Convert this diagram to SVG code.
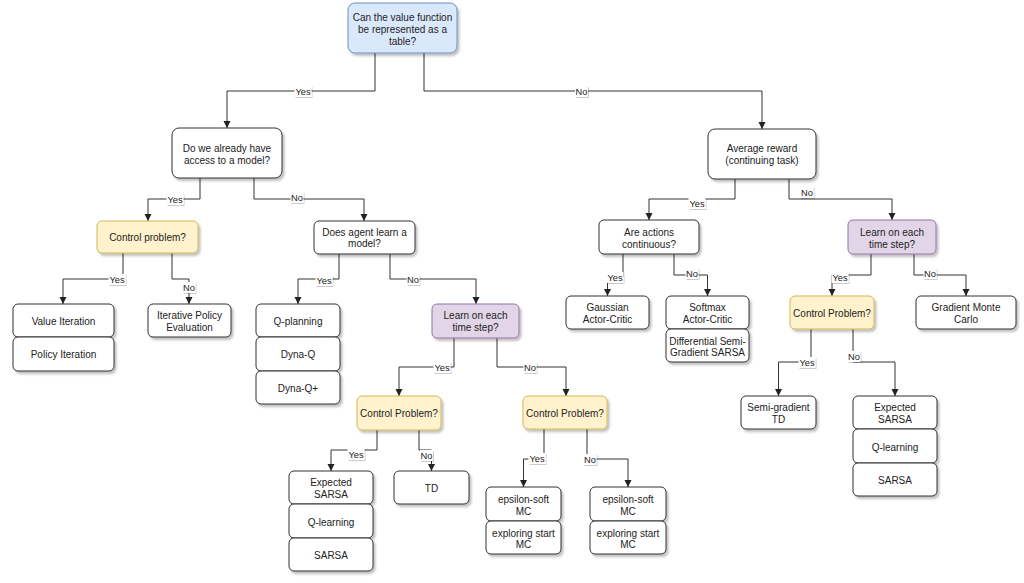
<svg xmlns="http://www.w3.org/2000/svg" width="1024" height="583" viewBox="0 0 1024 583">
<defs>
<filter id="sh" x="-10%" y="-10%" width="130%" height="140%">
<feDropShadow dx="2" dy="2.5" stdDeviation="1" flood-color="#000" flood-opacity="0.25"/>
</filter>
<filter id="lsh" x="-20%" y="-20%" width="150%" height="160%">
<feDropShadow dx="1" dy="1" stdDeviation="0.5" flood-color="#000" flood-opacity="0.2"/>
</filter>
<marker id="ah" markerWidth="8" markerHeight="8" refX="7" refY="4" orient="auto" markerUnits="userSpaceOnUse">
<path d="M0,0.5 L7,4 L0,7.5 Z" fill="#222"/>
</marker>
</defs>
<style>
rect.n{fill:#fff;stroke:#333;stroke-width:1;filter:url(#sh)}
rect.b{fill:#dae8fc;stroke:#6c8ebf;stroke-width:1;filter:url(#sh)}
rect.y{fill:#fff2cc;stroke:#d6b656;stroke-width:1;filter:url(#sh)}
rect.p{fill:#e1d5e7;stroke:#9673a6;stroke-width:1;filter:url(#sh)}
text{font-family:"Liberation Sans",Arial,sans-serif;font-size:10px;fill:#222;text-anchor:middle}
.e path{fill:none;stroke:#333;stroke-width:1;marker-end:url(#ah)}
.e rect{fill:#fff;filter:url(#lsh)}
.e text{font-size:9.3px}
</style>
<rect width="1024" height="583" fill="#fff"/>
<g class="e" id="connectors">
<path d="M375 53 V91 H227 V128"/>
<path d="M424 53 V91 H762 V129"/>
<path d="M200 178 V199 H148 V221"/>
<path d="M254 178 V199 H364 V221"/>
<path d="M123 253 V279 H63 V304"/>
<path d="M172 253 V279 H189 V304"/>
<path d="M339 254 V279 H298 V304"/>
<path d="M390 254 V279 H476 V304"/>
<path d="M454 338 V367 H399 V396"/>
<path d="M497 338 V367 H566 V396"/>
<path d="M377 430 V450 H331 V471"/>
<path d="M419 430 V450 H431.5 V471"/>
<path d="M544 429 V459 H523.5 V487"/>
<path d="M587 429 V459 H628 V487"/>
<path d="M735 179 V199 H649 V220"/>
<path d="M789 179 V199 H892 V220"/>
<path d="M623 254 V277 H607.5 V296"/>
<path d="M674 254 V275 H707.5 V296"/>
<path d="M871 254 V275 H832 V296"/>
<path d="M914 254 V275 H966 V296"/>
<path d="M811 329 V362 H778.5 V396"/>
<path d="M853 329 V362 H895 V396"/>
<rect x="294.5" y="86" width="17" height="11"/><text x="303" y="94.5">Yes</text>
<rect x="575" y="86" width="13" height="11"/><text x="581.5" y="94.5">No</text>
<rect x="166.5" y="194" width="17" height="11"/><text x="175" y="202.5">Yes</text>
<rect x="290.5" y="192" width="13" height="11"/><text x="297" y="200.5">No</text>
<rect x="108.5" y="274" width="17" height="11"/><text x="117" y="282.5">Yes</text>
<rect x="182.5" y="282" width="13" height="11"/><text x="189" y="290.5">No</text>
<rect x="315.5" y="275" width="17" height="11"/><text x="324" y="283.5">Yes</text>
<rect x="406.5" y="274" width="13" height="11"/><text x="413" y="282.5">No</text>
<rect x="433.5" y="362" width="17" height="11"/><text x="442" y="370.5">Yes</text>
<rect x="523.5" y="362" width="13" height="11"/><text x="530" y="370.5">No</text>
<rect x="347.5" y="449" width="17" height="11"/><text x="356" y="457.5">Yes</text>
<rect x="420" y="450" width="13" height="11"/><text x="426.5" y="458.5">No</text>
<rect x="528.5" y="453" width="17" height="11"/><text x="537" y="461.5">Yes</text>
<rect x="583.5" y="454" width="13" height="11"/><text x="590" y="462.5">No</text>
<rect x="688.5" y="198" width="17" height="11"/><text x="697" y="206.5">Yes</text>
<rect x="800.5" y="187" width="13" height="11"/><text x="807" y="195.5">No</text>
<rect x="606.5" y="272" width="17" height="11"/><text x="615" y="280.5">Yes</text>
<rect x="685.5" y="268" width="13" height="11"/><text x="692" y="276.5">No</text>
<rect x="831.5" y="272" width="17" height="11"/><text x="840" y="280.5">Yes</text>
<rect x="923.5" y="268" width="13" height="11"/><text x="930" y="276.5">No</text>
<rect x="798.5" y="357" width="17" height="11"/><text x="807" y="365.5">Yes</text>
<rect x="847.5" y="351" width="13" height="11"/><text x="854" y="359.5">No</text>
</g>
<g id="root"><rect class="b" x="348" y="3" width="109" height="50" rx="7"/><text x="402.5" y="20.5">Can the value function</text><text x="402.5" y="32.5">be represented as a</text><text x="402.5" y="44.5">table?</text></g>
<g id="model-access"><rect class="n" x="172" y="128" width="110" height="50" rx="7"/><text x="227" y="152">Do we already have</text><text x="227" y="164">access to a model?</text></g>
<g id="control1"><rect class="y" x="97" y="221" width="101" height="32" rx="5"/><text x="147.5" y="241">Control problem?</text></g>
<g id="value-iteration"><rect class="n" x="13" y="304" width="101" height="33" rx="5"/><text x="63.5" y="324.5">Value Iteration</text></g>
<g id="policy-iteration"><rect class="n" x="13" y="337" width="101" height="34" rx="5"/><text x="63.5" y="358">Policy Iteration</text></g>
<g id="ipe"><rect class="n" x="148" y="304" width="83" height="33" rx="5"/><text x="189.5" y="319">Iterative Policy</text><text x="189.5" y="330.5">Evaluation</text></g>
<g id="learn-model"><rect class="n" x="314" y="221" width="101" height="33" rx="5"/><text x="364.5" y="236">Does agent learn a</text><text x="364.5" y="247">model?</text></g>
<g id="q-planning"><rect class="n" x="256" y="304" width="84" height="33" rx="5"/><text x="298" y="324.5">Q-planning</text></g>
<g id="dyna-q"><rect class="n" x="256" y="337" width="84" height="34" rx="5"/><text x="298" y="358">Dyna-Q</text></g>
<g id="dyna-q-plus"><rect class="n" x="256" y="371" width="84" height="33" rx="5"/><text x="298" y="391.5">Dyna-Q+</text></g>
<g id="learn-step1"><rect class="p" x="432" y="304" width="87" height="34" rx="5"/><text x="475.5" y="319">Learn on each</text><text x="475.5" y="330.5">time step?</text></g>
<g id="control2"><rect class="y" x="357" y="396" width="84" height="34" rx="5"/><text x="399" y="417">Control Problem?</text></g>
<g id="exp-sarsa1"><rect class="n" x="289" y="471" width="84" height="33" rx="5"/><text x="331" y="486">Expected</text><text x="331" y="497.5">SARSA</text></g>
<g id="q-learning1"><rect class="n" x="289" y="504" width="84" height="34" rx="5"/><text x="331" y="526">Q-learning</text></g>
<g id="sarsa1"><rect class="n" x="289" y="538" width="84" height="33" rx="5"/><text x="331" y="558.5">SARSA</text></g>
<g id="td"><rect class="n" x="394" y="471" width="75" height="33" rx="5"/><text x="431.5" y="492">TD</text></g>
<g id="control3"><rect class="y" x="523" y="396" width="84" height="33" rx="5"/><text x="565" y="417">Control Problem?</text></g>
<g id="eps-soft1"><rect class="n" x="486" y="487" width="75" height="34" rx="5"/><text x="523.5" y="502.5">epsilon-soft</text><text x="523.5" y="514.5">MC</text></g>
<g id="explore1"><rect class="n" x="486" y="521" width="75" height="33" rx="5"/><text x="523.5" y="537">exploring start</text><text x="523.5" y="548">MC</text></g>
<g id="eps-soft2"><rect class="n" x="590" y="487" width="76" height="34" rx="5"/><text x="628" y="502.5">epsilon-soft</text><text x="628" y="514.5">MC</text></g>
<g id="explore2"><rect class="n" x="590" y="521" width="76" height="33" rx="5"/><text x="628" y="537">exploring start</text><text x="628" y="548">MC</text></g>
<g id="avg-reward"><rect class="n" x="708" y="129" width="108" height="50" rx="7"/><text x="762" y="152">Average reward</text><text x="762" y="163.5">(continuing task)</text></g>
<g id="actions-cont"><rect class="n" x="599" y="220" width="100" height="34" rx="5"/><text x="649" y="236">Are actions</text><text x="649" y="247.5">continuous?</text></g>
<g id="gaussian"><rect class="n" x="566" y="296" width="83" height="33" rx="5"/><text x="607.5" y="311">Gaussian</text><text x="607.5" y="323">Actor-Critic</text></g>
<g id="softmax"><rect class="n" x="666" y="296" width="83" height="33" rx="5"/><text x="707.5" y="311">Softmax</text><text x="707.5" y="323">Actor-Critic</text></g>
<g id="diff-sarsa"><rect class="n" x="666" y="329" width="83" height="33" rx="5"/><text x="707.5" y="344.5">Differential Semi-</text><text x="707.5" y="356">Gradient SARSA</text></g>
<g id="learn-step2"><rect class="p" x="848" y="220" width="88" height="34" rx="5"/><text x="892" y="236">Learn on each</text><text x="892" y="247.5">time step?</text></g>
<g id="control4"><rect class="y" x="790" y="296" width="84" height="33" rx="5"/><text x="832" y="317">Control Problem?</text></g>
<g id="gradient-mc"><rect class="n" x="916" y="296" width="100" height="33" rx="5"/><text x="966" y="311">Gradient Monte</text><text x="966" y="322.5">Carlo</text></g>
<g id="semi-td"><rect class="n" x="741" y="396" width="75" height="33" rx="5"/><text x="778.5" y="411">Semi-gradient</text><text x="778.5" y="423">TD</text></g>
<g id="exp-sarsa2"><rect class="n" x="853" y="396" width="84" height="33" rx="5"/><text x="895" y="411">Expected</text><text x="895" y="423">SARSA</text></g>
<g id="q-learning2"><rect class="n" x="853" y="429" width="84" height="34" rx="5"/><text x="895" y="451">Q-learning</text></g>
<g id="sarsa2"><rect class="n" x="853" y="463" width="84" height="33" rx="5"/><text x="895" y="484">SARSA</text></g>
</svg>
